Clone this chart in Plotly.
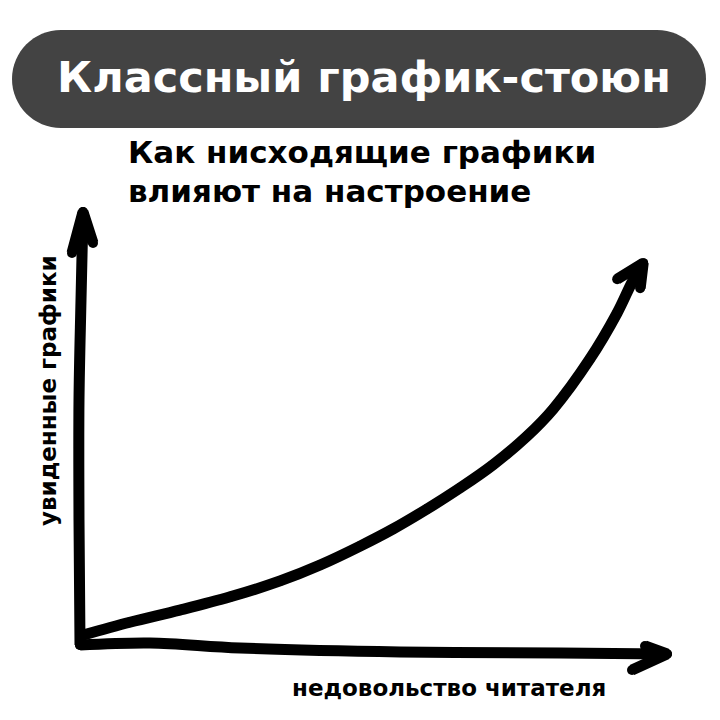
import plotly.graph_objects as go

# ---------------- data ----------------
TITLE = "Классный график-стоюн"
SUBTITLE_1 = "Как нисходящие графики"
SUBTITLE_2 = "влияют на настроение"
X_LABEL = "недовольство читателя"
Y_LABEL = "увиденные графики"

# curve: x = недовольство читателя, y = увиденные графики (arbitrary units 0..10)
curve_x = [0.05, 0.86, 1.72, 2.59, 3.45, 4.14, 4.83, 5.40, 5.98, 6.55, 7.12, 7.71, 8.16, 8.79, 9.26, 9.53, 9.71]
curve_y = [0.23, 0.53, 0.81, 1.12, 1.49, 1.86, 2.30, 2.70, 3.16, 3.65, 4.19, 4.86, 5.49, 6.65, 7.72, 8.47, 8.88]

# ---------------- layout geometry ----------------
W = H = 720
OX, OY = 80, 645          # pixel position of the origin
SX, SY = 58.0, 43.0       # pixels per unit

def px2x(px):
    return (px - OX) / SX

def py2y(py):
    return (OY - py) / SY

def x2px(x):
    return OX + x * SX

def y2py(y):
    return OY - y * SY

LW = 11
INK = "#000000"
FONT = "'DejaVu Sans', Inter, sans-serif"

fig = go.Figure()

def stroke(xs, ys, smooth=False):
    fig.add_trace(go.Scatter(
        x=xs, y=ys, mode="lines+markers",
        line=dict(color=INK, width=LW, shape="spline" if smooth else "linear", smoothing=1.0),
        marker=dict(color=INK, size=LW - 1, line=dict(width=0)),
        hoverinfo="skip", cliponaxis=False, showlegend=False,
    ))

def arrowhead(tip_px, arm1, arm2):
    tx, ty = tip_px
    xs = [px2x(tx + arm1[0]), px2x(tx), px2x(tx + arm2[0])]
    ys = [py2y(ty + arm1[1]), py2y(ty), py2y(ty + arm2[1])]
    stroke(xs, ys)

# hand-drawn axes (decoration)
yaxis_px = [(80, 645), (79, 520), (79, 400), (81, 300), (83, 212)]
xaxis_px = [(80, 645), (150, 643), (240, 648), (400, 652), (560, 653), (667, 654)]
stroke([px2x(p[0]) for p in yaxis_px], [py2y(p[1]) for p in yaxis_px], smooth=True)
arrowhead(yaxis_px[-1], (-11, 41), (10, 31))
stroke([px2x(p[0]) for p in xaxis_px], [py2y(p[1]) for p in xaxis_px], smooth=True)
arrowhead(xaxis_px[-1], (-22, -8), (-35, 16))

# the data curve
stroke(curve_x, curve_y, smooth=True)
arrowhead((x2px(curve_x[-1]), y2py(curve_y[-1])), (-26, 16), (-3, 25))

# ---------------- title pill ----------------
def P(px, py):
    return f"{px / W:.5f},{1 - py / H:.5f}"

x0, x1, t, b = 12, 706, 30, 128
r = (b - t) / 2
k = 0.5523 * r
cy = (t + b) / 2
path = (
    f"M {P(x0 + r, t)} L {P(x1 - r, t)} "
    f"C {P(x1 - r + k, t)} {P(x1, cy - k)} {P(x1, cy)} "
    f"C {P(x1, cy + k)} {P(x1 - r + k, b)} {P(x1 - r, b)} "
    f"L {P(x0 + r, b)} "
    f"C {P(x0 + r - k, b)} {P(x0, cy + k)} {P(x0, cy)} "
    f"C {P(x0, cy - k)} {P(x0 + r - k, t)} {P(x0 + r, t)} Z"
)
fig.add_shape(type="path", path=path, xref="paper", yref="paper",
              fillcolor="#434343", line=dict(width=0), layer="below")

def ann(text, px, py, size, weight, xanchor="center", angle=0, color=INK):
    fig.add_annotation(
        text=text, x=px / W, y=1 - py / H, xref="paper", yref="paper",
        xanchor=xanchor, yanchor="middle", showarrow=False, textangle=angle,
        font=dict(family=FONT, size=size, weight=weight, color=color),
    )

ann(TITLE, 364, 77, 43, 700, color="#ffffff")
ann(SUBTITLE_1, 126, 152, 31, 700, xanchor="left")
ann(SUBTITLE_2, 126, 191, 31, 700, xanchor="left")
ann(Y_LABEL, 48, 391, 23, 700, angle=-90)
ann(X_LABEL, 449, 688, 23, 700)

fig.update_layout(
    width=W, height=H,
    margin=dict(l=0, r=0, t=0, b=0),
    paper_bgcolor="#ffffff", plot_bgcolor="#ffffff",
    showlegend=False,
    xaxis=dict(range=[px2x(0), px2x(W)], visible=False, fixedrange=True),
    yaxis=dict(range=[py2y(H), py2y(0)], visible=False, fixedrange=True),
)

fig.write_html("out.html", config={"displayModeBar": False},
               post_script="document.body.style.margin='0';document.body.style.overflow='hidden';")
